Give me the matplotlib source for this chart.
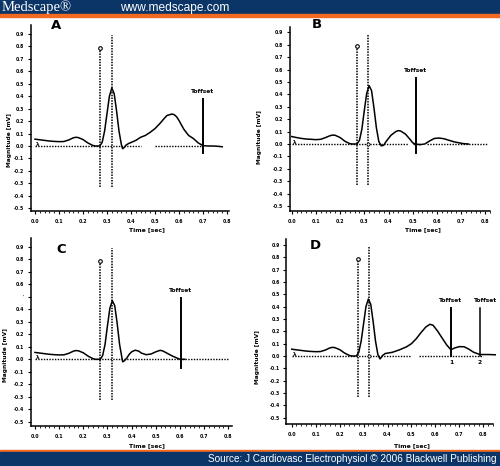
import matplotlib
matplotlib.use("Agg")
from matplotlib import pyplot as plt

# ---- data ----
t_a = [0.00, 0.02, 0.04, 0.06, 0.08, 0.10, 0.12, 0.14, 0.16, 0.17, 0.18, 0.20, 0.22, 0.24, 0.25, 0.27,
       0.28, 0.29, 0.30, 0.31, 0.32, 0.33, 0.34, 0.35, 0.36, 0.365, 0.37, 0.38, 0.39, 0.40, 0.42, 0.44,
       0.46, 0.48, 0.50, 0.52, 0.54, 0.55, 0.57, 0.58, 0.59, 0.60, 0.62, 0.64, 0.66, 0.68, 0.70, 0.72,
       0.74, 0.76, 0.78]
v_a = [0.055, 0.050, 0.045, 0.040, 0.037, 0.035, 0.036, 0.048, 0.066, 0.070, 0.068, 0.052, 0.025, 0.005, 0.0, 0.0,
       0.03, 0.12, 0.26, 0.40, 0.466, 0.42, 0.28, 0.12, 0.01, -0.022, -0.015, 0.008, 0.02, 0.028, 0.045, 0.07,
       0.085, 0.11, 0.14, 0.18, 0.225, 0.245, 0.257, 0.252, 0.235, 0.205, 0.135, 0.085, 0.06, 0.025, 0.003, 0.0,
       0.0, -0.002, -0.006]

t_b = [0.00, 0.02, 0.04, 0.06, 0.08, 0.10, 0.12, 0.14, 0.16, 0.17, 0.18, 0.20, 0.22, 0.24, 0.25, 0.27,
       0.28, 0.29, 0.30, 0.31, 0.32, 0.33, 0.34, 0.35, 0.36, 0.37, 0.38, 0.39, 0.41, 0.43, 0.44, 0.45,
       0.47, 0.49, 0.50, 0.51, 0.53, 0.55, 0.57, 0.59, 0.61, 0.63, 0.65, 0.67, 0.69, 0.71, 0.73]
v_b = [0.060, 0.052, 0.045, 0.040, 0.038, 0.035, 0.038, 0.052, 0.068, 0.072, 0.070, 0.052, 0.022, 0.003, 0.0, 0.0,
       0.03, 0.12, 0.27, 0.41, 0.47, 0.43, 0.29, 0.13, 0.02, -0.015, -0.01, 0.02, 0.07, 0.10, 0.108, 0.105,
       0.08, 0.035, 0.01, 0.0, -0.005, 0.0, 0.025, 0.045, 0.048, 0.042, 0.03, 0.018, 0.01, 0.003, 0.0]

t_c = [0.00, 0.02, 0.04, 0.06, 0.08, 0.10, 0.12, 0.14, 0.16, 0.17, 0.18, 0.20, 0.22, 0.24, 0.25, 0.27,
       0.28, 0.29, 0.30, 0.31, 0.32, 0.33, 0.34, 0.35, 0.36, 0.363, 0.37, 0.38, 0.39, 0.40, 0.415, 0.43,
       0.44, 0.46, 0.48, 0.50, 0.518, 0.53, 0.55, 0.57, 0.59, 0.60, 0.62]
v_c = [0.055, 0.050, 0.045, 0.040, 0.037, 0.035, 0.036, 0.048, 0.066, 0.070, 0.068, 0.052, 0.025, 0.005, 0.0, 0.0,
       0.03, 0.12, 0.27, 0.41, 0.47, 0.43, 0.29, 0.12, 0.01, -0.02, -0.012, 0.01, 0.04, 0.06, 0.073, 0.065,
       0.05, 0.037, 0.042, 0.06, 0.072, 0.066, 0.045, 0.025, 0.008, 0.0, 0.0]

t_d = [0.00, 0.02, 0.04, 0.06, 0.08, 0.10, 0.12, 0.14, 0.16, 0.17, 0.18, 0.20, 0.22, 0.24, 0.25, 0.27,
       0.28, 0.29, 0.30, 0.31, 0.32, 0.33, 0.34, 0.35, 0.36, 0.369, 0.38, 0.39, 0.42, 0.45, 0.48, 0.50,
       0.52, 0.54, 0.56, 0.577, 0.59, 0.61, 0.63, 0.647, 0.665, 0.68, 0.70, 0.72, 0.74, 0.76, 0.786, 0.80,
       0.82, 0.85]
v_d = [0.055, 0.050, 0.045, 0.040, 0.037, 0.035, 0.036, 0.048, 0.066, 0.070, 0.068, 0.052, 0.025, 0.005, 0.0, 0.0,
       0.03, 0.12, 0.26, 0.40, 0.462, 0.42, 0.28, 0.12, 0.01, -0.024, 0.005, 0.02, 0.03, 0.05, 0.075, 0.10,
       0.14, 0.19, 0.235, 0.257, 0.25, 0.20, 0.14, 0.09, 0.05, 0.065, 0.076, 0.075, 0.055, 0.03, 0.012, 0.012,
       0.012, 0.01]

# marker times: onset (o) line, R peak line, T offset line(s)
onset = {'A': 0.272, 'B': 0.271, 'C': 0.270, 'D': 0.278}
rpeak = {'A': 0.320, 'B': 0.317, 'C': 0.318, 'D': 0.323}
toff = {'A': [0.70], 'B': [0.512], 'C': [0.603], 'D': [0.665, 0.786]}
toff_top = {'A': 0.38, 'B': 0.53, 'C': 0.49, 'D': 0.39}
toff_bot = {'A': -0.06, 'B': -0.075, 'C': -0.07, 'D': 0.0}
# dotted baseline pieces
base = {'A': [(0.0, 0.44), (0.50, 0.70)],
        'B': [(0.0, 0.48), (0.50, 0.53), (0.56, 0.81)],
        'C': [(0.0, 0.80)],
        'D': [(0.0, 0.50), (0.53, 0.80)]}

yticks = [0.9, 0.8, 0.7, 0.6, 0.5, 0.4, 0.3, 0.2, 0.1, 0.0, -0.1, -0.2, -0.3, -0.4, -0.5]
xticks = [0.0, 0.1, 0.2, 0.3, 0.4, 0.5, 0.6, 0.7, 0.8]

curves = {'A': (t_a, v_a), 'B': (t_b, v_b), 'C': (t_c, v_c), 'D': (t_d, v_d)}

# ---- layout (pixels): x of t=0, px per sec, y of 0 mV, px per mV, xlim, ylim ----
W, H = 500, 466
layout = {'A': (35.0, 240.0, 146.0, 124.4, (-0.017, 0.81), (-0.525, 0.97)),
          'B': (291.7, 242.0, 144.0, 124.0, (-0.007, 0.82), (-0.54, 0.94)),
          'C': (35.0, 241.6, 359.3, 124.8, (-0.017, 0.815), (-0.535, 0.97)),
          'D': (291.7, 239.5, 356.0, 123.3, (-0.022, 0.84), (-0.55, 0.95))}
letter_pos = {'A': (0.086, 0.97), 'B': (0.103, 0.96), 'C': (0.11, 0.88), 'D': (0.10, 0.90)}
ylab_pos = {'A': (10, 140), 'B': (259, 137), 'C': (6, 355), 'D': (258, 357)}
xlab_pos = {'A': (146.7, 230), 'B': (423, 230), 'C': (146.7, 445.7), 'D': (411.7, 445.7)}

navy = '#0a3566'
orange = '#f26a21'

fig = plt.figure(figsize=(W / 100, H / 100), dpi=100)
fig.patch.set_facecolor('white')

# header / footer bars
fig.patches.append(plt.Rectangle((0, 1 - 14 / H), 1, 14 / H, transform=fig.transFigure, color=navy))
fig.patches.append(plt.Rectangle((0, 1 - 17 / H), 1, 3 / H, transform=fig.transFigure, color=orange))
fig.patches.append(plt.Rectangle((0, 14 / H), 1, 2 / H, transform=fig.transFigure, color=orange))
fig.patches.append(plt.Rectangle((0, 0), 1, 14 / H, transform=fig.transFigure, color=navy))
fig.text(2 / W, 1 - 7.5 / H, 'Medscape®', color='white', family='Liberation Serif', fontsize=10.5,
         va='center', ha='left')
fig.text(120 / W, 1 - 7.5 / H, 'www.medscape.com', color='white', family='Liberation Sans', fontsize=8.6,
         va='center', ha='left')
fig.text(496 / W, 7.5 / H, 'Source: J Cardiovasc Electrophysiol © 2006 Blackwell Publishing', color='white',
         family='Liberation Sans', fontsize=7.2, va='center', ha='right')

small = dict(family='DejaVu Sans', fontweight='bold')

for key in ['A', 'B', 'C', 'D']:
    x0, sx, y0, sy, (xl, xr), (yb, yt) = layout[key]
    left = x0 + xl * sx
    top = y0 - yt * sy
    ax = fig.add_axes([left / W, 1 - (top + (yt - yb) * sy) / H, (xr - xl) * sx / W, (yt - yb) * sy / H])
    ax.set_xlim(xl, xr)
    ax.set_ylim(yb, yt)
    for s in ['top', 'right']:
        ax.spines[s].set_visible(False)
    for s in ['left', 'bottom']:
        ax.spines[s].set_linewidth(1.1)

    ax.set_yticks(yticks)
    ax.set_yticklabels(["'" if (key == 'C' and abs(v - 0.5) < 1e-9) else '%.1f' % v for v in yticks],
                       fontsize=3.3, fontweight='bold')
    ax.set_xticks(xticks)
    ax.set_xticklabels(['%.1f' % v for v in xticks], fontsize=3.4, fontweight='bold')
    ax.set_xticks([i * 0.02 for i in range(int(xr / 0.02) + 1)], minor=True)
    ax.tick_params(axis='y', which='major', length=2.0, width=0.8, pad=2.8)
    ax.tick_params(axis='x', which='major', length=2.2, width=0.8, pad=3.5)
    ax.tick_params(axis='x', which='minor', length=1.2, width=0.6)

    t, v = curves[key]
    ax.plot(t, v, color='black', lw=1.1, clip_on=False, zorder=3)

    for a, b in base[key]:
        ax.plot([a, b], [0, 0], color='black', lw=1.0, ls=(0, (1, 1)), zorder=2)

    ax.plot([onset[key], onset[key]], [-0.33, 0.78], color='black', lw=1.1, ls=(0, (1, 0.8)))
    ax.plot([onset[key]], [0.79], marker='o', ms=2.6, mfc='white', mec='black', mew=0.8)
    ax.plot([rpeak[key], rpeak[key]], [-0.33, 0.89], color='black', lw=1.1, ls=(0, (1, 0.8)))
    if key in ('B', 'D'):
        ax.plot([rpeak[key]], [0.0], marker='o', ms=2.2, mfc='white', mec='black', mew=0.6, zorder=4)

    for i, tt in enumerate(toff[key]):
        ax.plot([tt, tt], [toff_bot[key], toff_top[key]], color='black', lw=1.4 if i == 0 else 1.1, zorder=4)
        lx = tt if i == 0 else tt + 0.025
        ax.text(lx, toff_top[key] + 0.06, 'Toffset', fontsize=4.3, ha='center', va='center',
                clip_on=False, **small)
        if key == 'D':
            ax.text(tt, -0.05, str(i + 1), fontsize=4.3, ha='center', va='center', **small)

    ax.text(0.012, 0.015, 'λ', fontsize=4, ha='center', va='center', **small)
    lx, ly = letter_pos[key]
    ax.text(lx, ly, key, fontsize=9.5, ha='center', va='center', **small)

    fig.text(ylab_pos[key][0] / W, 1 - ylab_pos[key][1] / H, 'Magnitude [mV]', rotation=90,
             fontsize=4.2, ha='center', va='center', **small)
    fig.text(xlab_pos[key][0] / W, 1 - xlab_pos[key][1] / H, 'Time [sec]',
             fontsize=4.4, ha='center', va='center', **small)

fig.savefig('out.png', dpi=100)
